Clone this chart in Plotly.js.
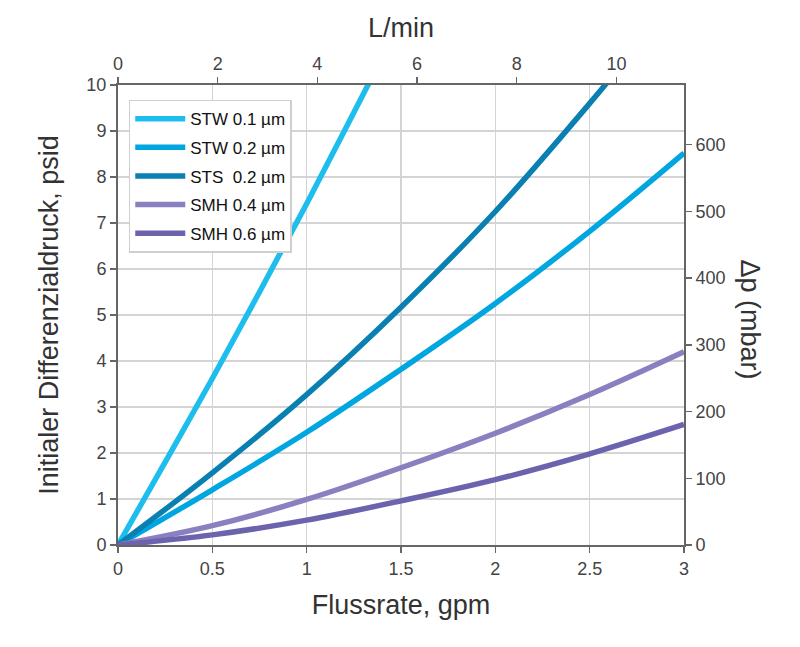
<!DOCTYPE html>
<html>
<head>
<meta charset="utf-8">
<script src="https://cdn.plot.ly/plotly-3.0.1.min.js"></script>
<style>
html,body{margin:0;padding:0;background:#fff;}
#chart{width:800px;height:647px;}
</style>
</head>
<body>
<div id="chart"></div>
<script>
// Flow rate in gpm, initial differential pressure in psid
var seriesNames = ["STW 0.1 µm", "STW 0.2 µm", "STS  0.2 µm", "SMH 0.4 µm", "SMH 0.6 µm"];
var seriesColors = ["#1dbdee", "#00a6e0", "#0a80b2", "#8a80c0", "#6c63ae"];

var stw01_x = [0, 0.25, 0.5, 0.75, 1.0, 1.25, 1.5];
var stw01_y = [0, 1.8, 3.62, 5.5, 7.42, 9.4, 11.4];

var stw02_x = [0, 0.5, 1.0, 1.5, 2.0, 2.5, 3.0];
var stw02_y = [0, 1.2, 2.45, 3.82, 5.25, 6.82, 8.52];

var sts02_x = [0, 0.5, 1.0, 1.5, 2.0, 2.5, 3.0];
var sts02_y = [0, 1.57, 3.27, 5.17, 7.25, 9.6, 12.1];

var smh04_x = [0, 0.5, 1.0, 1.5, 2.0, 2.5, 3.0];
var smh04_y = [0, 0.42, 0.99, 1.68, 2.43, 3.27, 4.2];

var smh06_x = [0, 0.5, 1.0, 1.5, 2.0, 2.5, 3.0];
var smh06_y = [0, 0.22, 0.54, 0.96, 1.42, 1.98, 2.62];

var xTop_ticks = [0, 2, 4, 6, 8, 10];
var yRight_ticks = [0, 100, 200, 300, 400, 500, 600];

var GPM_TO_LPM = 3.78541;
var PSI_TO_MBAR = 68.9476;
var gpmMax = 3, psiMax = 10;

var xs = [stw01_x, stw02_x, sts02_x, smh04_x, smh06_x];
var ys = [stw01_y, stw02_y, sts02_y, smh04_y, smh06_y];

var traces = [];
for (var i = 0; i < seriesNames.length; i++) {
  traces.push({
    type: "scatter", mode: "lines",
    x: xs[i], y: ys[i],
    name: seriesNames[i],
    legendgroup: "g" + i,
    line: {color: seriesColors[i], width: 5.5, shape: "spline", smoothing: 1},
    hoverinfo: "skip"
  });
}
// invisible trace on secondary axes so they exist
traces.push({type: "scatter", mode: "markers", x: [0], y: [0], xaxis: "x2", yaxis: "y2",
  marker: {opacity: 0}, showlegend: false, hoverinfo: "skip"});

var FF = "Liberation Sans, Arial, sans-serif";
var tickFont = {family: FF, size: 18, color: "#444"};
var titleFont = {family: FF, size: 27, color: "#333"};
var axisCol = "#666";
var gridCol = "#d4d4d4";

var layout = {
  width: 800, height: 647,
  margin: {l: 118, r: 116, t: 85, b: 102},
  paper_bgcolor: "#fff", plot_bgcolor: "#fff",
  showlegend: true,
  legend: {
    x: 0.019, y: 0.968, xanchor: "left", yanchor: "top",
    bgcolor: "#fff", bordercolor: "#cfcfcf", borderwidth: 1.5,
    font: {family: FF, size: 17, color: "#111"},
    tracegroupgap: 3.5, itemwidth: 50
  },
  xaxis: {
    range: [0, gpmMax], dtick: 0.5,
    showline: true, linecolor: axisCol, linewidth: 2,
    showgrid: true, gridcolor: gridCol, gridwidth: 1.5,
    zeroline: false,
    ticks: "outside", ticklen: 6, tickcolor: axisCol, tickwidth: 1.5,
    tickfont: tickFont,
    title: {text: "Flussrate, gpm", font: titleFont, standoff: 18}
  },
  yaxis: {
    range: [0, psiMax], dtick: 1,
    showline: true, linecolor: axisCol, linewidth: 2,
    showgrid: true, gridcolor: gridCol, gridwidth: 1.5,
    zeroline: false,
    ticks: "outside", ticklen: 6, tickcolor: axisCol, tickwidth: 1.5,
    tickfont: tickFont,
    title: {text: "Initialer Differenzialdruck, psid", font: titleFont, standoff: 20}
  },
  xaxis2: {
    overlaying: "x", side: "top", anchor: "y",
    range: [0, gpmMax * GPM_TO_LPM],
    tickmode: "array", tickvals: xTop_ticks, ticktext: xTop_ticks.map(String),
    showline: true, linecolor: axisCol, linewidth: 2,
    showgrid: false, zeroline: false,
    ticks: "outside", ticklen: 6, tickcolor: axisCol, tickwidth: 1.5,
    tickfont: tickFont,
    title: {text: "L/min", font: titleFont, standoff: 8}
  },
  yaxis2: {
    overlaying: "y", side: "right", anchor: "x",
    range: [0, psiMax * PSI_TO_MBAR],
    tickmode: "array", tickvals: yRight_ticks, ticktext: yRight_ticks.map(String),
    showline: true, linecolor: axisCol, linewidth: 2,
    showgrid: false, zeroline: false,
    ticks: "outside", ticklen: 6, tickcolor: axisCol, tickwidth: 1.5,
    tickfont: tickFont
  },
  annotations: [{
    text: "Δp (mbar)", xref: "paper", yref: "paper",
    x: 1.117, y: 0.49, xanchor: "center", yanchor: "middle",
    textangle: 90, showarrow: false, font: titleFont
  }]
};

Plotly.newPlot("chart", traces, layout, {displayModeBar: false, staticPlot: true});
</script>
</body>
</html>
